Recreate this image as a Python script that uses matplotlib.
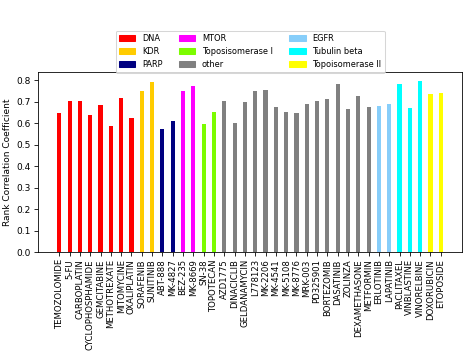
import matplotlib
matplotlib.use("Agg")
import matplotlib.pyplot as plt
from matplotlib.patches import Patch
from matplotlib.ticker import MultipleLocator

drugs = ["TEMOZOLOMIDE", "5-FU", "CARBOPLATIN", "CYCLOPHOSPHAMIDE", "GEMCITABINE",
         "METHOTREXATE", "MITOMYCINE", "OXALIPLATIN", "SORAFENIB", "SUNITINIB",
         "ABT-888", "MK-4827", "BEZ-235", "MK-8669", "SN-38", "TOPOTECAN",
         "AZD1775", "DINACICLIB", "GELDANAMYCIN", "L778123", "MK-2206", "MK-4541",
         "MK-5108", "MK-8776", "MRK-003", "PD325901", "BORTEZOMIB", "DASATINIB",
         "ZOLINZA", "DEXAMETHASONE", "METFORMIN", "ERLOTINIB", "LAPATINIB",
         "PACLITAXEL", "VINBLASTINE", "VINORELBINE", "DOXORUBICIN", "ETOPOSIDE"]

rank_corr = [0.648, 0.702, 0.705, 0.636, 0.685, 0.588, 0.715, 0.622, 0.752, 0.791,
             0.575, 0.612, 0.749, 0.771, 0.594, 0.654,
             0.701, 0.600, 0.698, 0.749, 0.755, 0.676, 0.651, 0.646, 0.691, 0.705,
             0.712, 0.781, 0.665, 0.727, 0.673,
             0.679, 0.690, 0.784, 0.671, 0.798, 0.735, 0.741]

targets = ["DNA", "KDR", "PARP", "MTOR", "Toposisomerase I", "other",
           "EGFR", "Tubulin beta", "Topoisomerase II"]
target_counts = [8, 2, 2, 2, 2, 15, 2, 3, 2]
target_colors = ["red", "#ffcc00", "navy", "magenta", "lawngreen", "grey",
                 "lightskyblue", "cyan", "yellow"]

bar_colors = []
for c, n in zip(target_colors, target_counts):
    bar_colors += [c] * n

plt.rcParams["font.size"] = 8.8

fig, ax = plt.subplots(figsize=(474 / 74, 355 / 74), dpi=74)
fig.subplots_adjust(left=0.080, right=0.975, top=0.797, bottom=0.290)

x = list(range(len(drugs)))
ax.bar(x, rank_corr, width=0.4, color=bar_colors)
ax.set_xticks(x)
ax.set_xticklabels(drugs, rotation=90, fontsize=8.3)
for tl, c in zip(ax.xaxis.get_major_ticks(), bar_colors):
    tl.tick1line.set_color(c)
ax.yaxis.set_major_locator(MultipleLocator(0.1))
ax.set_ylabel("Rank Correlation Coefficient")

handles = [Patch(color=c, label=t) for t, c in zip(targets, target_colors)]
fig.legend(handles=handles, ncol=3, loc="upper center", fontsize=8,
           bbox_to_anchor=(0.528, 0.925))

fig.savefig("out.png", dpi=74)
